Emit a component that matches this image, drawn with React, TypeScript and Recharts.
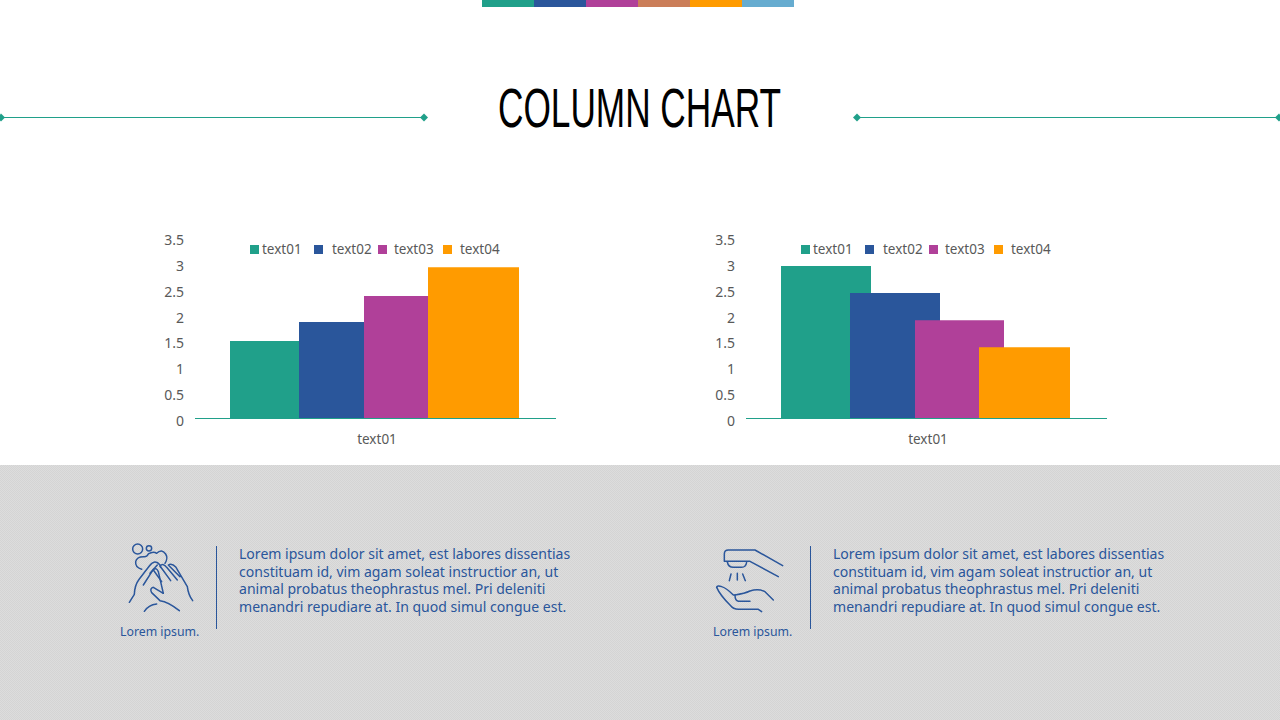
import { BarChart, Bar, XAxis, YAxis, Rectangle } from "recharts";

const categories = ["text01"];
const seriesNames = ["text01", "text02", "text03", "text04"];
const seriesColors = ["#20a08a", "#2a569b", "#b04099", "#ff9b00"];
const leftValues = [1.5, 1.87, 2.37, 2.93];
const rightValues = [2.95, 2.43, 1.9, 1.38];
const yTicks = [0, 0.5, 1, 1.5, 2, 2.5, 3, 3.5];
const stripeColors = ["#20a08a", "#2a569b", "#b04099", "#cb7e59", "#ff9b00", "#66acd0"];
const bodyLines = [
  "Lorem ipsum dolor sit amet, est labores dissentias",
  "constituam id, vim agam soleat instructior an, ut",
  "animal probatus theophrastus mel. Pri deleniti",
  "menandri repudiare at. In quod simul congue est.",
];

const FONT = "'Noto Sans', sans-serif";
const TEAL = "#20a08a";
const BLUE = "#2a569b";
const GREY = "#595959";

// bars overlap in the original, and not quite evenly
const BAR_SIZES = [94, 90, 89, 91];
const LEGEND_GAPS = [13, 7, 10];
const LEGEND_TEXT_GAPS = [3, 9, 7, 8];

function ChartLegend({ left }: { left: number }) {
  return (
    <div style={{ position: "absolute", left, top: 240, display: "flex", alignItems: "center", fontFamily: FONT, fontSize: 13.5, lineHeight: "18px", color: GREY }}>
      {seriesNames.map((name, i) => (
        <div key={name} style={{ display: "flex", alignItems: "center", marginRight: LEGEND_GAPS[i] ?? 0 }}>
          <span style={{ width: 9, height: 9, background: seriesColors[i], marginRight: LEGEND_TEXT_GAPS[i] }} />
          <span style={{ width: 39, whiteSpace: "nowrap" }}>{name}</span>
        </div>
      ))}
    </div>
  );
}

function ColumnChart({ values, left }: { values: number[]; left: number }) {
  const data = categories.map((label) => {
    const row: Record<string, string | number> = { label };
    seriesNames.forEach((name, i) => {
      row[name] = values[i];
    });
    return row;
  });
  return (
    <>
      <div style={{ position: "absolute", left, top: 225 }}>
        <BarChart
          width={440}
          height={230}
          data={data}
          barGap={-25}
          margin={{ top: 12.7, right: 34, bottom: 6.5, left: 0 }}
        >
          <XAxis
            dataKey="label"
            height={30}
            padding={{ left: 0, right: 3 }}
            axisLine={{ stroke: TEAL }}
            tickLine={false}
            tick={{ fill: GREY, fontSize: 13.5, fontFamily: FONT, dx: 3, dy: 7.5 }}
          />
          <YAxis
            width={45}
            domain={[0, 3.5]}
            ticks={yTicks}
            axisLine={false}
            tickLine={false}
            tickMargin={5}
            tick={{ fill: GREY, fontSize: 14, fontFamily: FONT, dy: 2.5 }}
          />
          {seriesNames.map((name, i) => (
            <Bar
              key={name}
              dataKey={name}
              fill={seriesColors[i]}
              barSize={BAR_SIZES[i]}
              isAnimationActive={false}
              // the first column is really 90 wide, the extra only sets the step
              shape={i === 0 ? (p: any) => <Rectangle {...p} width={p.width - 4} /> : undefined}
            />
          ))}
        </BarChart>
      </div>
      <ChartLegend left={left + 100} />
    </>
  );
}

function HeaderRule({ x1, x2 }: { x1: number; x2: number }) {
  const diamond = (x: number) => `${x},113.5 ${x + 4},117.5 ${x},121.5 ${x - 4},117.5`;
  return (
    <g>
      <line x1={x1} x2={x2} y1={117.5} y2={117.5} stroke={TEAL} strokeWidth={1} />
      <polygon points={diamond(x1)} fill={TEAL} />
      <polygon points={diamond(x2)} fill={TEAL} />
    </g>
  );
}

function WashIcon() {
  return (
    <g transform="translate(100,530) scale(0.3333)" fill="none" stroke={BLUE} strokeWidth={4.5} strokeLinecap="round" strokeLinejoin="round">
      <circle cx={113} cy={57} r={15} />
      <circle cx={147} cy={55} r={8} />
      <path d="M125 118 Q105 112 107 95 Q110 80 130 80 Q140 82 145 72 Q160 62 170 70 Q185 55 197 72 Q205 85 195 100" />
      <path d="M88 217 L103 193 Q104 165 118 147 L148 108 Q165 85 180 105 L182 112" />
      <path d="M130 165 L160 118 Q170 112 175 125 L190 190" />
      <path d="M150 130 L172 105 M185 155 L160 120 M212 152 L180 108 Q190 98 200 112 L232 150 M240 140 L205 105 Q215 98 228 112 L262 170 Q265 195 278 212" />
      <path d="M190 190 L160 172 Q148 175 155 188 L180 212 Q205 215 238 242" />
      <path d="M133 244 Q145 225 170 222" />
    </g>
  );
}

function ShowerIcon() {
  return (
    <g transform="translate(700,530) scale(0.3333)" fill="none" stroke={BLUE} strokeWidth={4.5} strokeLinecap="round" strokeLinejoin="round">
      <path d="M248 107 L165 60 L85 60 Q73 60 73 72 L73 94 L150 94 L235 140" />
      <path d="M82 96 Q85 112 100 112 L125 112 Q138 112 140 96" />
      <path d="M93 132 L88 152 M112 130 L112 150 M128 132 L136 152" />
      <path d="M50 172 Q52 165 65 170 Q80 175 100 195 L105 195 Q135 190 150 183 Q175 175 195 185 L220 210" />
      <path d="M105 195 Q105 212 115 214 L150 214" />
      <path d="M50 172 Q60 195 90 225 Q100 238 115 238 L175 238 L185 245" />
    </g>
  );
}

function Caption({ x, lines, label, labelX, ruleX }: { x: number; lines: string[]; label: string; labelX: number; ruleX: number }) {
  return (
    <>
      <div style={{ position: "absolute", left: ruleX, top: 546, width: 1, height: 83, background: BLUE }} />
      <div style={{ position: "absolute", left: x, top: 545, fontFamily: FONT, fontSize: 14.05, lineHeight: "17.6px", color: BLUE, whiteSpace: "nowrap" }}>
        {lines.map((line) => (
          <div key={line}>{line}</div>
        ))}
      </div>
      <div style={{ position: "absolute", left: labelX, top: 623, fontFamily: FONT, fontSize: 12.3, lineHeight: "17px", color: BLUE, whiteSpace: "nowrap" }}>
        {label}
      </div>
    </>
  );
}

export default function App() {
  return (
    <div style={{ position: "fixed", left: 0, top: 0, width: 1280, height: 720, overflow: "hidden", background: "#fff" }}>
      {/* colour strip */}
      <div style={{ position: "absolute", left: 482, top: 0, display: "flex" }}>
        {stripeColors.map((c) => (
          <div key={c} style={{ width: 52, height: 7, background: c }} />
        ))}
      </div>

      {/* grey band */}
      <div
        style={{
          position: "absolute",
          left: 0,
          top: 465,
          width: 1280,
          height: 255,
          background: "repeating-conic-gradient(#d4d4d4 0 25%, #dddddd 0 50%) 0 0 / 2px 2px",
        }}
      />

      <svg width={1280} height={720} style={{ position: "absolute", left: 0, top: 0 }}>
        <HeaderRule x1={1} x2={424} />
        <HeaderRule x1={857} x2={1279} />
        <text x={498} y={126.5} textLength={283} lengthAdjust="spacingAndGlyphs" fontFamily="'Liberation Sans Narrow', 'Liberation Sans'" fontSize={55} fill="#000">
          COLUMN CHART
        </text>
        <WashIcon />
        <ShowerIcon />
      </svg>

      <ColumnChart values={leftValues} left={150} />
      <ColumnChart values={rightValues} left={701} />

      <Caption x={239} lines={bodyLines} label="Lorem ipsum." labelX={120} ruleX={216} />
      <Caption x={833} lines={bodyLines} label="Lorem ipsum." labelX={713} ruleX={810} />
    </div>
  );
}
